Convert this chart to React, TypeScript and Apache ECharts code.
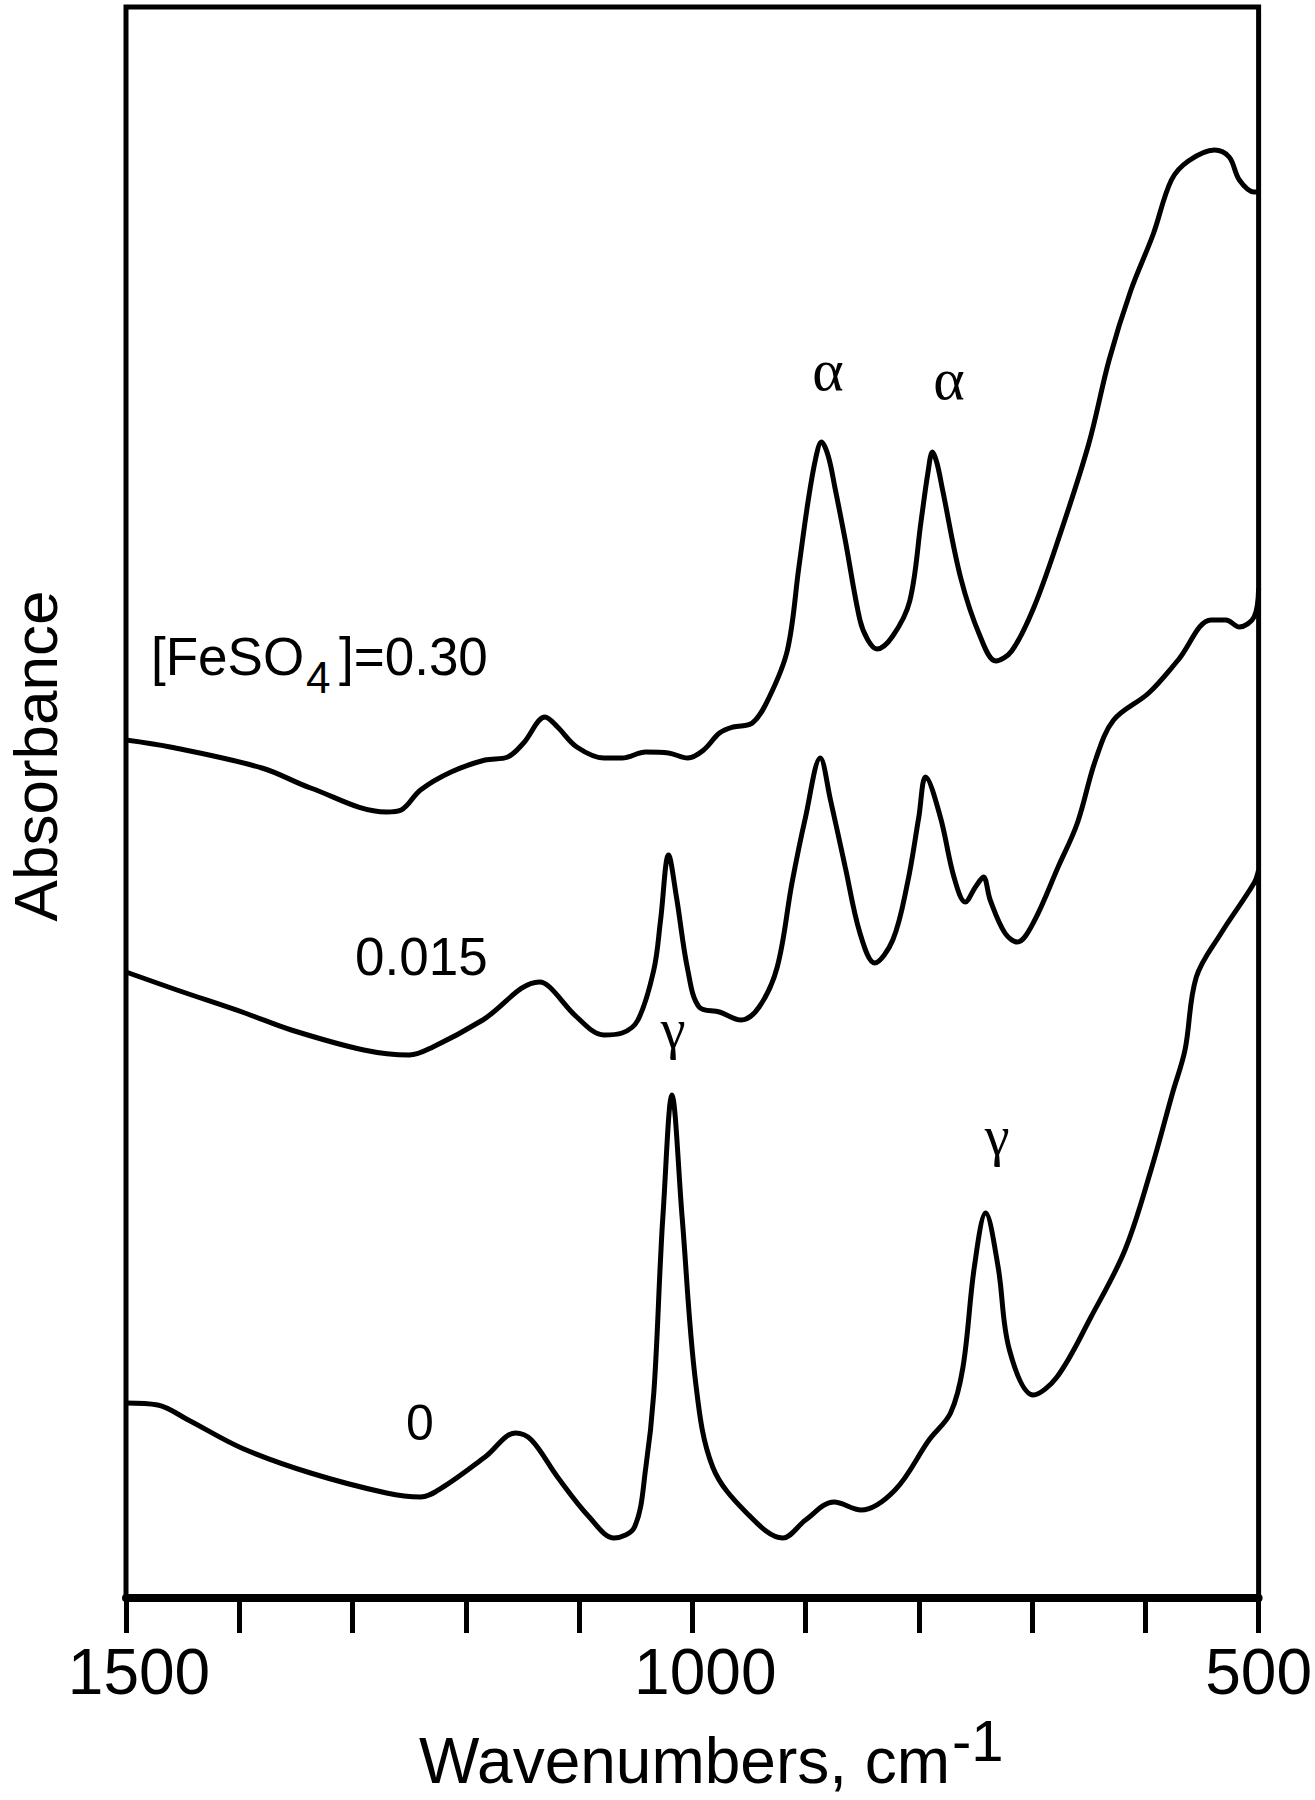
import React, { useEffect, useRef } from "react";
import * as echarts from "echarts";

// Wavenumbers (cm-1) and absorbance (arbitrary, offset)
const wnTop = [1500, 1461, 1380, 1337, 1270, 1257, 1240, 1213, 1183, 1163, 1149, 1130, 1119, 1102, 1078, 1062, 1041, 1021, 1004, 990, 976, 964, 947, 932, 916, 906, 898, 891, 886, 880, 874, 865, 852, 845, 837, 823, 808, 798, 792, 788, 784, 779, 763, 746, 732, 718, 699, 677, 650, 632, 613, 593, 577, 562, 539, 526, 517, 504, 500];
const absTop = [0.858, 0.851, 0.830, 0.810, 0.786, 0.788, 0.808, 0.826, 0.838, 0.841, 0.855, 0.881, 0.871, 0.851, 0.840, 0.840, 0.846, 0.845, 0.840, 0.848, 0.865, 0.871, 0.875, 0.901, 0.948, 1.030, 1.095, 1.140, 1.156, 1.142, 1.110, 1.058, 0.978, 0.958, 0.949, 0.962, 0.997, 1.077, 1.125, 1.146, 1.135, 1.108, 1.020, 0.962, 0.937, 0.947, 0.989, 1.058, 1.154, 1.238, 1.307, 1.364, 1.418, 1.437, 1.448, 1.441, 1.418, 1.406, 1.406];

const wnMid = [1500, 1455, 1395, 1354, 1290, 1250, 1229, 1185, 1135, 1126, 1102, 1078, 1062, 1048, 1034, 1028, 1021, 1014, 1004, 994, 976, 957, 941, 925, 912, 900, 887, 878, 865, 852, 839, 823, 810, 800, 794, 781, 769, 759, 750, 743, 737, 724, 713, 699, 677, 660, 644, 628, 597, 571, 542, 529, 517, 504, 500];
const absMid = [0.626, 0.608, 0.585, 0.568, 0.548, 0.543, 0.551, 0.578, 0.616, 0.611, 0.581, 0.563, 0.565, 0.578, 0.628, 0.678, 0.743, 0.701, 0.628, 0.591, 0.586, 0.578, 0.591, 0.631, 0.715, 0.781, 0.840, 0.798, 0.731, 0.665, 0.635, 0.658, 0.715, 0.781, 0.821, 0.781, 0.721, 0.696, 0.711, 0.721, 0.698, 0.665, 0.656, 0.675, 0.731, 0.775, 0.838, 0.878, 0.905, 0.938, 0.978, 0.978, 0.971, 0.981, 1.010];

const wnBot = [1500, 1472, 1445, 1398, 1337, 1270, 1240, 1220, 1183, 1156, 1142, 1119, 1091, 1069, 1051, 1041, 1034, 1028, 1026, 1018, 1009, 997, 982, 952, 920, 900, 875, 851, 821, 791, 772, 761, 751, 741, 730, 720, 699, 678, 648, 618, 595, 576, 565, 555, 533, 504, 500];
const absBot = [0.195, 0.193, 0.178, 0.150, 0.125, 0.105, 0.101, 0.111, 0.141, 0.165, 0.158, 0.121, 0.081, 0.060, 0.071, 0.131, 0.205, 0.340, 0.381, 0.503, 0.381, 0.215, 0.131, 0.085, 0.060, 0.078, 0.096, 0.088, 0.108, 0.158, 0.185, 0.231, 0.331, 0.385, 0.331, 0.248, 0.203, 0.221, 0.281, 0.348, 0.428, 0.505, 0.548, 0.621, 0.665, 0.715, 0.728];

const tickLabels = [1500, 1000, 500];

const zip = (xs: number[], ys: number[]) => xs.map((x, i) => [x, ys[i]]);

const SANS = "Liberation Sans, Arial, Helvetica, sans-serif";
const SERIF = "Liberation Serif, Times New Roman, serif";

export default function App() {
  const ref = useRef<HTMLDivElement>(null);
  useEffect(() => {
    const chart = echarts.init(ref.current!, null, { renderer: "svg" });
    const line = (name: string, xs: number[], ys: number[]) => ({
      name,
      type: "line",
      data: zip(xs, ys),
      showSymbol: false,
      smooth: 0.35,
      lineStyle: { color: "#000", width: 5 },
      z: 3,
    });
    const txt = (text: string, x: number, y: number, size: number, family: string, align = "left", rotation = 0) => ({
      type: "text",
      x,
      y,
      rotation,
      style: { text, fontSize: size, fontFamily: family, fill: "#000", align, verticalAlign: "middle" },
      z: 10,
    });
    chart.setOption({
      animation: false,
      backgroundColor: "#fff",
      grid: { left: 126, right: 51, top: 7, bottom: 202, show: true, borderColor: "#000", borderWidth: 5, backgroundColor: "transparent" },
      xAxis: {
        type: "value",
        min: 500,
        max: 1500,
        interval: 100,
        inverse: true,
        axisLine: { show: true, lineStyle: { color: "#000", width: 8 } },
        axisTick: { show: true, inside: false, length: 35, lineStyle: { color: "#000", width: 5 } },
        splitLine: { show: false },
        axisLabel: {
          margin: 42,
          color: "#000",
          fontSize: 64,
          fontFamily: SANS,
          formatter: (v: number) => (tickLabels.indexOf(v) < 0 ? "" : v === 500 ? `{n|${v}}` : `{s|${v}}`),
          rich: {
            s: { fontSize: 64, fontFamily: SANS, color: "#000", padding: [0, 0, 0, 26] },
            n: { fontSize: 64, fontFamily: SANS, color: "#000" },
          },
        },
      },
      yAxis: {
        type: "value",
        min: 0,
        max: 1.591,
        axisLine: { show: false },
        axisTick: { show: false },
        axisLabel: { show: false },
        splitLine: { show: false },
      },
      series: [
        line("[FeSO4]=0.30", wnTop, absTop),
        line("0.015", wnMid, absMid),
        line("0", wnBot, absBot),
      ],
      graphic: [
        txt("Absorbance", 35, 756, 62, SANS, "center", Math.PI / 2),
        txt("Wavenumbers, cm", 419, 1761, 64, SANS),
        txt("-1", 952, 1740, 58, SANS),
        txt("[FeSO", 151, 656, 53, SANS),
        txt("4", 306, 677, 44, SANS),
        txt("]=0.30", 339, 656, 53, SANS),
        txt("0.015", 355, 956, 53, SANS),
        txt("0", 420, 1423, 50, SANS, "center"),
        txt("α", 828, 370, 60, SERIF, "center"),
        txt("α", 949, 379, 60, SERIF, "center"),
        txt("γ", 673, 1029, 56, SERIF, "center"),
        txt("γ", 997, 1136, 56, SERIF, "center"),
      ],
    });
    return () => chart.dispose();
  }, []);
  return <div ref={ref} style={{ position: "absolute", left: 0, top: 0, width: 1315, height: 1800 }} />;
}
